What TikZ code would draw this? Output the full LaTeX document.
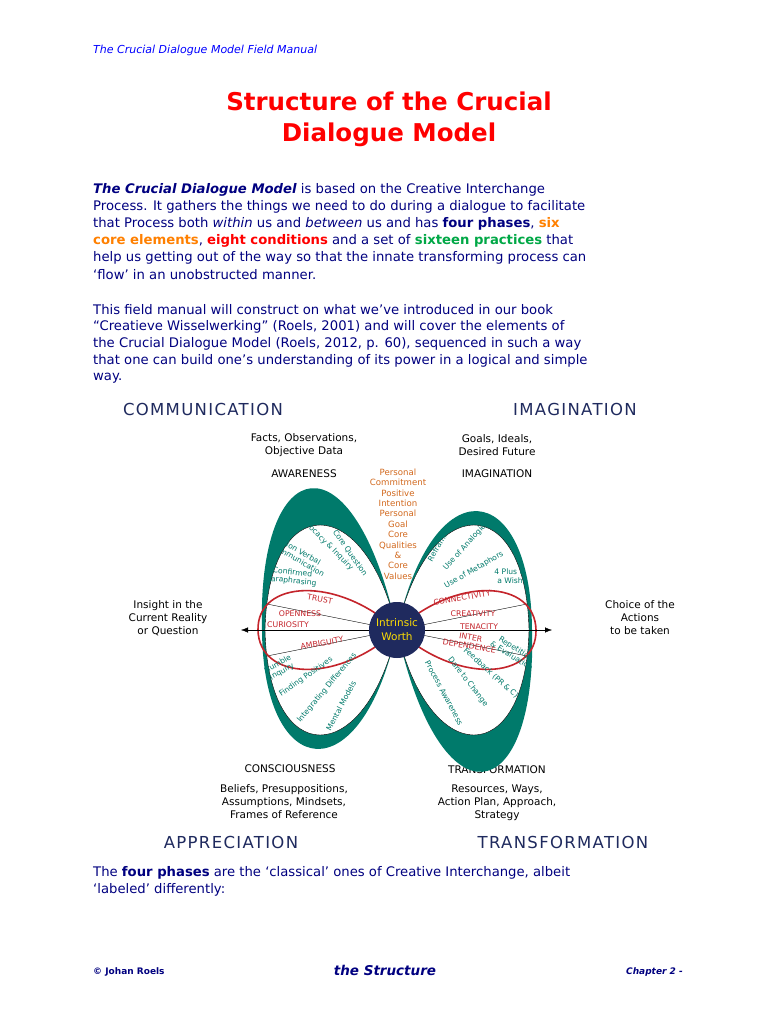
\documentclass[tikz,border=0pt]{standalone}
\usepackage{fontspec}
\setmainfont{DejaVu Sans}
\usepackage{tikz}
\usetikzlibrary{arrows.meta,positioning}
\definecolor{navy}{HTML}{000080}
\definecolor{teal2}{HTML}{007A6B}
\definecolor{cdred}{HTML}{C4242B}
\definecolor{cdorange}{HTML}{D2691E}
\definecolor{cdnavy}{HTML}{1F2A5E}
\definecolor{cdgreen}{HTML}{00A846}
\tikzset{
 body/.style={anchor=west,text=navy,font=\fontsize{13.2}{17}\selectfont,inner sep=0},
 phase/.style={text=cdnavy,font=\fontsize{16.5}{18}\selectfont\addfontfeatures{LetterSpace=8}},
 caption/.style={text=black,font=\fontsize{10.5}{13}\selectfont,align=center},
 prac/.style={text=teal2,font=\fontsize{7.6}{8.4}\selectfont,align=center,inner sep=0},
 cond/.style={text=cdred,font=\fontsize{7.8}{8.6}\selectfont,align=center,inner sep=0},
 pics/lobe/.style={code={
  \fill[teal2] (0,0) .. controls (-44,-200) and (-140,-178) .. (-135,0) .. controls (-134,152) and (-36,165) .. (0,0);
  \fill[white] (0,0) .. controls (-32,-140) and (-129,-140) .. (-132,0) .. controls (-129,140) and (-32,140) .. (0,0);
  \begin{scope}
   \clip (0,0) .. controls (-32,-140) and (-129,-140) .. (-132,0) .. controls (-129,140) and (-32,140) .. (0,0);
   \foreach \a in {100,112,124,136,150,163,197,210,224,236,248,260}
    \draw[gray!60,very thin] (0,0) -- (\a:-170);
   \draw[black,thin] (0,0) -- (-135,-27) (0,0) -- (-135,27);
  \end{scope}
  \draw[black,thin] (0,0) .. controls (-32,-140) and (-129,-140) .. (-132,0) .. controls (-129,140) and (-32,140) .. (0,0);
  \draw[cdred,line width=1.6pt] (0,0) .. controls (-60,-55) and (-140,-50) .. (-139,0) .. controls (-138,50) and (-60,55) .. (0,0);
 }}
}
\begin{document}
\begin{tikzpicture}[x=1pt,y=-1pt]
\useasboundingbox[fill=white] (0,0) rectangle (768,1024);
% header and title
\node[anchor=west,text=blue,font=\itshape\fontsize{11}{13}\selectfont,inner sep=0] (head) at (93,50) {The Crucial Dialogue Model Field Manual};
\node[text=red,font=\bfseries\fontsize{24.5}{31}\selectfont,align=center] (title) at (389,119) {Structure of the Crucial\\Dialogue Model};
% first paragraph
\node[body] (p1) at (93,190) {\textbf{\textit{The Crucial Dialogue Model}} is based on the Creative Interchange};
\node[body] (p2) at (93,207) {Process. It gathers the things we need to do during a dialogue to facilitate};
\node[body] (p3) at (93,224) {that Process both \textit{within} us and \textit{between} us and has \textbf{four phases}, \textbf{\color{orange}six}};
\node[body] (p4) at (93,241) {\textbf{\color{orange}core elements}, \textbf{\color{red}eight conditions} and a set of \textbf{\color{cdgreen}sixteen practices} that};
\node[body] (p5) at (93,258) {help us getting out of the way so that the innate transforming process can};
\node[body] (p6) at (93,275) {‘flow’ in an unobstructed manner.};
\node[body] (q1) at (93,310) {This field manual will construct on what we’ve introduced in our book};
\node[body] (q2) at (93,327) {“Creatieve Wisselwerking” (Roels, 2001) and will cover the elements of};
\node[body] (q3) at (93,344) {the Crucial Dialogue Model (Roels, 2012, p. 60), sequenced in such a way};
\node[body] (q4) at (93,361) {that one can build one’s understanding of its power in a logical and simple};
\node[body] (q5) at (93,378) {way.};
% diagram
\node[phase] (comm) at (203,409) {COMMUNICATION};
\node[phase] (imag) at (575,409) {IMAGINATION};
\node[phase] (appr) at (231,842) {APPRECIATION};
\node[phase] (tran) at (563,842) {TRANSFORMATION};
\node[caption] (facts) at (304,445) {Facts, Observations,\\Objective Data};
\node[caption] (goals) at (497,445) {Goals, Ideals,\\Desired Future};
\node[caption] (aware) at (304,474) {AWARENESS};
\node[caption] (imag2) at (497,474) {IMAGINATION};
\node[caption] (insight) at (168,618) {Insight in the\\Current Reality\\or Question};
\node[caption] (choice) at (640,618) {Choice of the\\Actions\\to be taken};
\node[caption] (consc) at (290,769) {CONSCIOUSNESS};
\node[caption] (trans2) at (497,770) {TRANSFORMATION};
\node[caption] (beliefs) at (284,802) {Beliefs, Presuppositions,\\Assumptions, Mindsets,\\Frames of Reference};
\node[caption] (res) at (497,803) {Resources, Ways,\\Action Plan, Approach,\\Strategy};
\pic at (397,630) {lobe};
\pic[rotate=180] at (397,630) {lobe};
\coordinate (lt) at (241,630);
\coordinate (rt) at (552,630);
\node[circle,fill=cdnavy,minimum size=56pt,inner sep=0,text=yellow!80!orange,align=center,font=\fontsize{10.5}{14}\selectfont] (worth) at (397,630) {Intrinsic\\Worth};
\draw[-{Latex[length=7pt]},thin] (worth.west) -- (lt);
\draw[-{Latex[length=7pt]},thin] (worth.east) -- (rt);
\node[text=cdorange,align=center,font=\fontsize{8.6}{10.4}\selectfont] (core) at (398,524) {Personal\\Commitment\\Positive\\Intention\\Personal\\Goal\\Core\\Qualities\\\&\\Core\\Values};
% practices
\node[prac,rotate=-55] (cq) at (350,553) {Core Question};
\node[prac,rotate=-45] (ai) at (326,543) {Advocacy \& Inquiry};
\node[prac,rotate=-30] (nv) at (300,556) {Non Verbal\\Communication};
\node[prac,rotate=-6] (cp) at (292,577) {Confirmed\\Paraphrasing};
\node[prac,rotate=30] (hi) at (280,668) {Humble\\Inquiry};
\node[prac,rotate=35] (fp) at (306,677) {Finding Positives};
\node[prac,rotate=50] (id) at (327,688) {Integrating Differences};
\node[prac,rotate=62] (mm) at (341,706) {Mental Models};
\node[prac,rotate=60] (rf) at (440,544) {Reframing};
\node[prac,rotate=48] (ua) at (466,546) {Use of Analogies};
\node[prac,rotate=30] (um) at (474,570) {Use of Metaphors};
\node[prac] (pw) at (510,576) {4 Plus \&\\a Wish};
\node[prac,rotate=-32] (re) at (514,652) {Repetition\\\& Evaluation};
\node[prac,rotate=-42] (fb) at (491,673) {Feedback (PR \& C)};
\node[prac,rotate=-52] (dc) at (468,682) {Dare to Change};
\node[prac,rotate=-62] (pa) at (444,693) {Process Awareness};
% conditions
\node[cond,rotate=-10] (trust) at (320,599) {TRUST};
\node[cond] (open) at (300,614) {OPENNESS};
\node[cond] (cur) at (288,625) {CURIOSITY};
\node[cond,rotate=10] (amb) at (322,643) {AMBIGUITY};
\node[cond,rotate=10] (conn) at (462,598) {CONNECTIVITY};
\node[cond] (crea) at (473,614) {CREATIVITY};
\node[cond] (ten) at (479,627) {TENACITY};
\node[cond,rotate=-10] (inter) at (470,642) {INTER\\DEPENDENCE};
% closing text and footer
\node[body] (r1) at (93,873) {The \textbf{four phases} are the ‘classical’ ones of Creative Interchange, albeit};
\node[body] (r2) at (93,890) {‘labeled’ differently:};
\node[anchor=west,text=navy,font=\bfseries\fontsize{9}{11}\selectfont,inner sep=0] (foot1) at (93,972) {© Johan Roels};
\node[text=navy,font=\bfseries\itshape\fontsize{13.5}{16}\selectfont] (foot2) at (385,970) {the Structure};
\node[anchor=east,text=navy,font=\bfseries\itshape\fontsize{9}{11}\selectfont,inner sep=0] (foot3) at (683,972) {Chapter 2 -};
\end{tikzpicture}
\end{document}
